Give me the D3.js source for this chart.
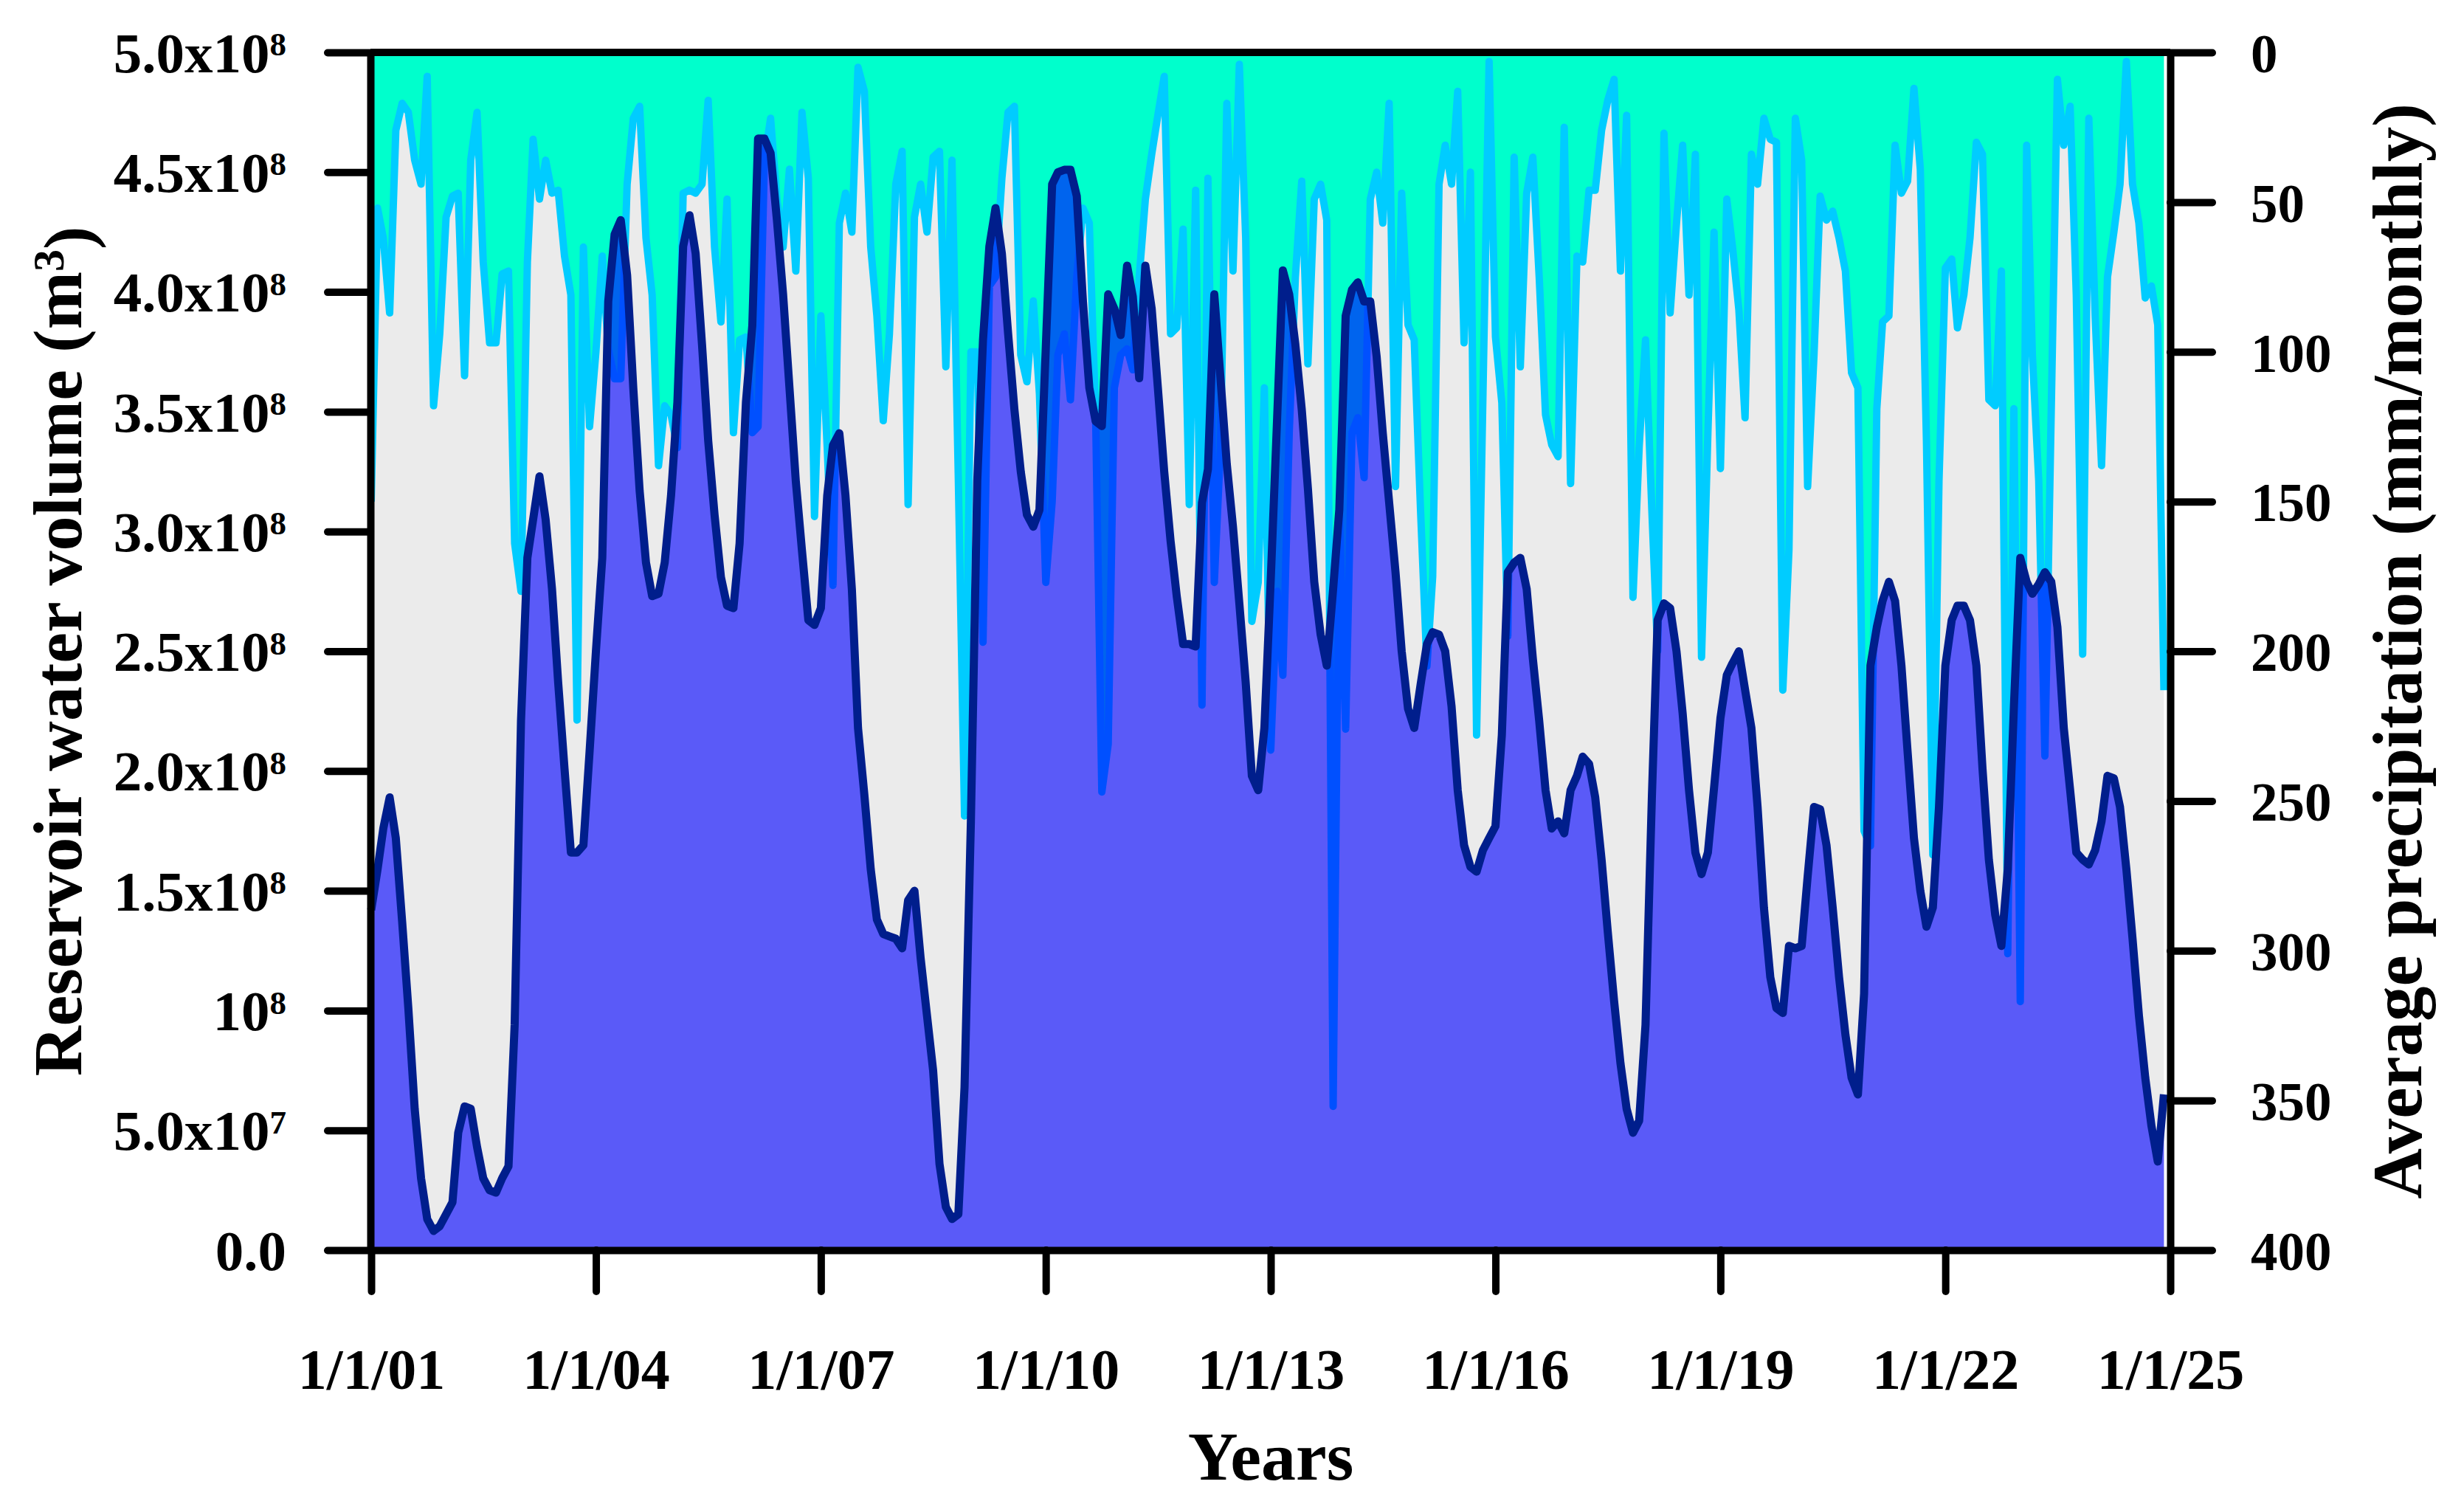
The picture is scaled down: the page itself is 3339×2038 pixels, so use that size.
<!DOCTYPE html>
<html lang="en">
<head>
    <meta charset="UTF-8">
    <title>Reservoir water volume and precipitation</title>
    <style>
        body{
            margin: 0;
            background: #ffffff;
        }
        svg{
            display: block;
        }
        text{
            font-family: "Liberation Serif", "DejaVu Serif", serif;
            font-weight: bold;
            fill: #000;
        }
        .axis .domain{
            stroke: #000;
            stroke-width: 10px;
        }
        .axis .tick line{
            stroke: #000;
            stroke-width: 10px;
            stroke-linecap: round;
        }
        .precipArea{ fill: #00ffcc; }
        .precipLine{
            fill: none;
            stroke: #00ccff;
            stroke-width: 10px;
            stroke-linejoin: round;
        }
        .volArea{ fill: #5a5af8; }
        .overlapArea{ fill: #0064ee; }
        .overlapLine{
            fill: none;
            stroke: #0050ff;
            stroke-width: 10px;
            stroke-linejoin: round;
        }
        .volLine{
            fill: none;
            stroke: #001e8c;
            stroke-width: 11px;
            stroke-linejoin: round;
        }
    </style>
    <script src="https://cdn.jsdelivr.net/npm/d3@7"></script>
</head>
<body>
<script>

    // monthly reservoir water volume, in 10^8 m3 (Jan 2001 ... Dec 2024, one row per year)
    const volume = [
        1.42,1.59,1.76,1.89,1.72,1.37,1.01,0.59,0.30,0.13,0.08,0.10,
        0.15,0.20,0.49,0.60,0.59,0.43,0.30,0.25,0.24,0.30,0.35,0.94,
        2.21,2.89,3.05,3.23,3.05,2.76,2.37,2.01,1.66,1.66,1.69,2.08,
        2.50,2.89,3.96,4.24,4.30,4.07,3.60,3.17,2.87,2.73,2.74,2.87,
        3.15,3.54,4.19,4.32,4.16,3.78,3.38,3.07,2.81,2.69,2.68,2.95,
        3.54,3.86,4.64,4.64,4.58,4.30,3.99,3.60,3.21,2.92,2.63,2.61,
        2.68,3.15,3.36,3.41,3.15,2.76,2.18,1.90,1.59,1.38,1.32,1.31,
        1.30,1.26,1.46,1.50,1.22,0.98,0.75,0.36,0.18,0.13,0.15,0.68,
        1.79,3.21,3.80,4.19,4.35,4.16,3.83,3.51,3.25,3.07,3.02,3.09,
        3.77,4.45,4.50,4.51,4.51,4.40,3.96,3.60,3.46,3.44,3.99,3.93,
        3.82,4.11,3.98,3.64,4.11,3.93,3.60,3.25,2.96,2.73,2.53,2.53,
        2.52,3.12,3.26,3.99,3.64,3.28,3.02,2.70,2.37,1.98,1.92,2.18,
        2.80,3.47,4.09,3.99,3.78,3.51,3.18,2.79,2.57,2.44,2.76,3.09,
        3.90,4.01,4.04,3.96,3.96,3.73,3.41,3.12,2.83,2.50,2.26,2.18,
        2.36,2.53,2.58,2.57,2.50,2.27,1.92,1.69,1.60,1.58,1.67,1.72,
        1.77,2.15,2.83,2.87,2.89,2.76,2.47,2.21,1.92,1.76,1.79,1.74,
        1.92,1.98,2.06,2.03,1.89,1.63,1.33,1.04,0.78,0.59,0.49,0.54,
        0.94,1.89,2.63,2.70,2.68,2.50,2.24,1.92,1.66,1.57,1.66,1.93,
        2.22,2.40,2.45,2.50,2.34,2.18,1.85,1.43,1.14,1.01,0.99,1.27,
        1.26,1.27,1.56,1.85,1.84,1.69,1.43,1.14,0.90,0.72,0.65,1.07,
        2.44,2.60,2.71,2.79,2.71,2.44,2.08,1.72,1.50,1.35,1.43,1.85,
        2.44,2.63,2.69,2.69,2.63,2.44,2.01,1.63,1.40,1.27,1.59,2.27,
        2.89,2.79,2.74,2.78,2.83,2.79,2.60,2.18,1.92,1.66,1.63,1.61,
        1.67,1.79,1.98,1.97,1.85,1.59,1.30,0.98,0.72,0.52,0.37,0.65
    ];

    // monthly average precipitation, mm (same months)
    const precipitation = [
        150,52,62,87,26,17,20,36,44,8,118,94,
        55,48,47,108,36,20,70,97,97,74,73,164,
        180,70,29,49,36,47,46,68,81,223,65,125,
        100,68,99,109,109,44,22,18,62,81,138,118,
        121,132,47,46,47,44,16,65,90,49,127,96,
        95,127,125,36,22,49,65,39,73,20,42,155,
        88,132,178,57,47,60,5,13,65,88,123,94,
        44,33,151,55,44,60,35,33,105,36,143,255,
        100,100,197,78,75,42,20,18,101,110,83,114,
        177,150,101,94,116,75,52,57,122,247,231,112,
        101,99,106,75,49,34,21,8,94,92,59,151,
        46,218,42,177,132,17,73,4,62,190,177,112,
        233,180,208,127,75,43,104,49,44,56,352,153,
        226,127,122,142,49,40,57,17,145,47,91,96,
        153,205,175,44,31,44,13,97,40,228,114,3,
        95,117,195,35,105,47,35,75,121,131,135,25,
        144,68,70,46,46,26,16,9,73,21,182,132,
        96,153,200,27,87,57,31,81,34,202,127,60,
        139,49,65,86,122,34,44,22,29,30,213,166,
        22,36,145,101,48,56,53,62,73,107,112,260,
        265,119,90,88,31,47,43,12,39,130,268,143,
        72,69,92,81,62,30,34,116,118,73,301,119,
        317,31,101,143,235,119,9,31,18,81,201,22,
        88,138,75,60,44,3,44,57,82,78,91,213
    ];

    // tick values and labels
    const xTickYears = [2001, 2004, 2007, 2010, 2013, 2016, 2019, 2022, 2025];
    const xTickLabels = ["1/1/01","1/1/04","1/1/07","1/1/10","1/1/13","1/1/16","1/1/19","1/1/22","1/1/25"];
    const volTicks = [0, 0.5, 1, 1.5, 2, 2.5, 3, 3.5, 4, 4.5, 5];
    const volTickBase = ["0.0","5.0x10","10","1.5x10","2.0x10","2.5x10","3.0x10","3.5x10","4.0x10","4.5x10","5.0x10"];
    const volTickExp = ["","7","8","8","8","8","8","8","8","8","8"];
    const precipTicks = [0, 50, 100, 150, 200, 250, 300, 350, 400];

    const width = 3339;
    const height = 2038;
    const margins = {
        top: 71,
        bottom: 344,
        left: 503,
        right: 398
    };

    const svg = d3.select("body").append("svg")
        .attr("width", width)
        .attr("height", height)
        .attr("viewBox", `0,0,${width},${height}`);

    // one entry per month
    const months = d3.timeMonth.range(new Date(2001, 0, 1), new Date(2025, 0, 1));
    const data = months.map((m, i) => ({date: m, vol: volume[i], rain: precipitation[i]}));

    const xScale = d3.scaleTime()
        .domain([new Date(2001, 0, 1), new Date(2025, 0, 1)])
        .range([margins.left, width - margins.right]);

    const yVol = d3.scaleLinear()
        .domain([0, 5])
        .range([height - margins.bottom, margins.top]);

    // precipitation axis hangs from the top
    const yRain = d3.scaleLinear()
        .domain([0, 400])
        .range([margins.top, height - margins.bottom]);

    /*------------- background -------------*/
    const x0 = xScale(data[0].date);
    const x1 = xScale(data[data.length - 1].date);
    svg.append("rect")
        .attr("x", x0)
        .attr("y", margins.top)
        .attr("width", x1 - x0)
        .attr("height", yVol(0) - margins.top)
        .attr("fill", "#ebebeb");

    /*------------- generators -------------*/
    const rainArea = d3.area()
        .x(d => xScale(d.date))
        .y0(yRain(0))
        .y1(d => yRain(d.rain));
    const rainLine = d3.line()
        .x(d => xScale(d.date))
        .y(d => yRain(d.rain));
    const volArea = d3.area()
        .x(d => xScale(d.date))
        .y0(yVol(0))
        .y1(d => yVol(d.vol));
    const volLine = d3.line()
        .x(d => xScale(d.date))
        .y(d => yVol(d.vol));

    // precipitation (from the top)
    svg.append("path").attr("class", "precipArea").attr("d", rainArea(data));
    svg.append("path").attr("class", "precipLine").attr("d", rainLine(data));

    // reservoir volume (from the bottom)
    svg.append("path").attr("class", "volArea").attr("d", volArea(data));

    // where the precipitation overlaps the volume the colours mix
    svg.append("clipPath").attr("id", "volClip")
        .append("path").attr("d", volArea(data));
    const overlap = svg.append("g").attr("clip-path", "url(#volClip)");
    overlap.append("path").attr("class", "overlapArea").attr("d", rainArea(data));
    overlap.append("path").attr("class", "overlapLine").attr("d", rainLine(data));

    svg.append("path").attr("class", "volLine").attr("d", volLine(data));

    /*------------- axes -------------*/
    const xAxis = d3.axisBottom(xScale)
        .tickValues(xTickYears.map(y => new Date(y, 0, 1)))
        .tickSize(56)
        .tickSizeOuter(0)
        .tickFormat((d, i) => xTickLabels[i]);
    const gx = svg.append("g").attr("class", "axis")
        .attr("transform", `translate(0,${height - margins.bottom})`)
        .call(xAxis);
    gx.selectAll("text")
        .attr("y", 188)
        .attr("dy", 0)
        .style("font-size", "78px");

    const yAxisL = d3.axisLeft(yVol)
        .tickValues(volTicks)
        .tickSize(58)
        .tickSizeOuter(0)
        .tickPadding(56)
        .tickFormat(() => "");
    const gyl = svg.append("g").attr("class", "axis")
        .attr("transform", `translate(${margins.left - 1},0)`)
        .call(yAxisL);
    gyl.selectAll("text")
        .style("font-size", "77px")
        .attr("dy", "0.34em")
        .each(function(d, i){
            const t = d3.select(this);
            t.append("tspan").text(volTickBase[i]);
            if (volTickExp[i]) {
                t.append("tspan")
                    .attr("dy", "-0.5em")
                    .style("font-size", "45px")
                    .text(volTickExp[i]);
            }
        });

    const yAxisR = d3.axisRight(yRain)
        .tickValues(precipTicks)
        .tickSize(57)
        .tickSizeOuter(0)
        .tickPadding(52);
    const gyr = svg.append("g").attr("class", "axis")
        .attr("transform", `translate(${width - margins.right},0)`)
        .call(yAxisR);
    gyr.selectAll("text")
        .style("font-size", "73px")
        .attr("dy", "0.36em");

    // top frame line
    svg.append("line")
        .attr("x1", margins.left - 1)
        .attr("x2", width - margins.right)
        .attr("y1", margins.top)
        .attr("y2", margins.top)
        .attr("stroke", "#000")
        .attr("stroke-width", 10);

    /*------------- axis titles -------------*/
    const midY = (margins.top + height - margins.bottom) / 2;
    const leftTitle = svg.append("text")
        .attr("transform", `translate(110,${midY}) rotate(-90)`)
        .style("text-anchor", "middle")
        .style("font-size", "94px");
    leftTitle.append("tspan").text("Reservoir water volume (m");
    leftTitle.append("tspan").attr("dy", "-0.4em").style("font-size", "60px").text("3");
    leftTitle.append("tspan").attr("dy", "0.4em").text(")");

    svg.append("text")
        .attr("transform", `translate(3281,${midY}) rotate(-90)`)
        .style("text-anchor", "middle")
        .style("font-size", "95px")
        .text("Average precipitation (mm/monthly)");

    svg.append("text")
        .attr("x", (margins.left + width - margins.right) / 2)
        .attr("y", 2005)
        .style("text-anchor", "middle")
        .style("font-size", "94px")
        .text("Years");

</script>
</body>
</html>
